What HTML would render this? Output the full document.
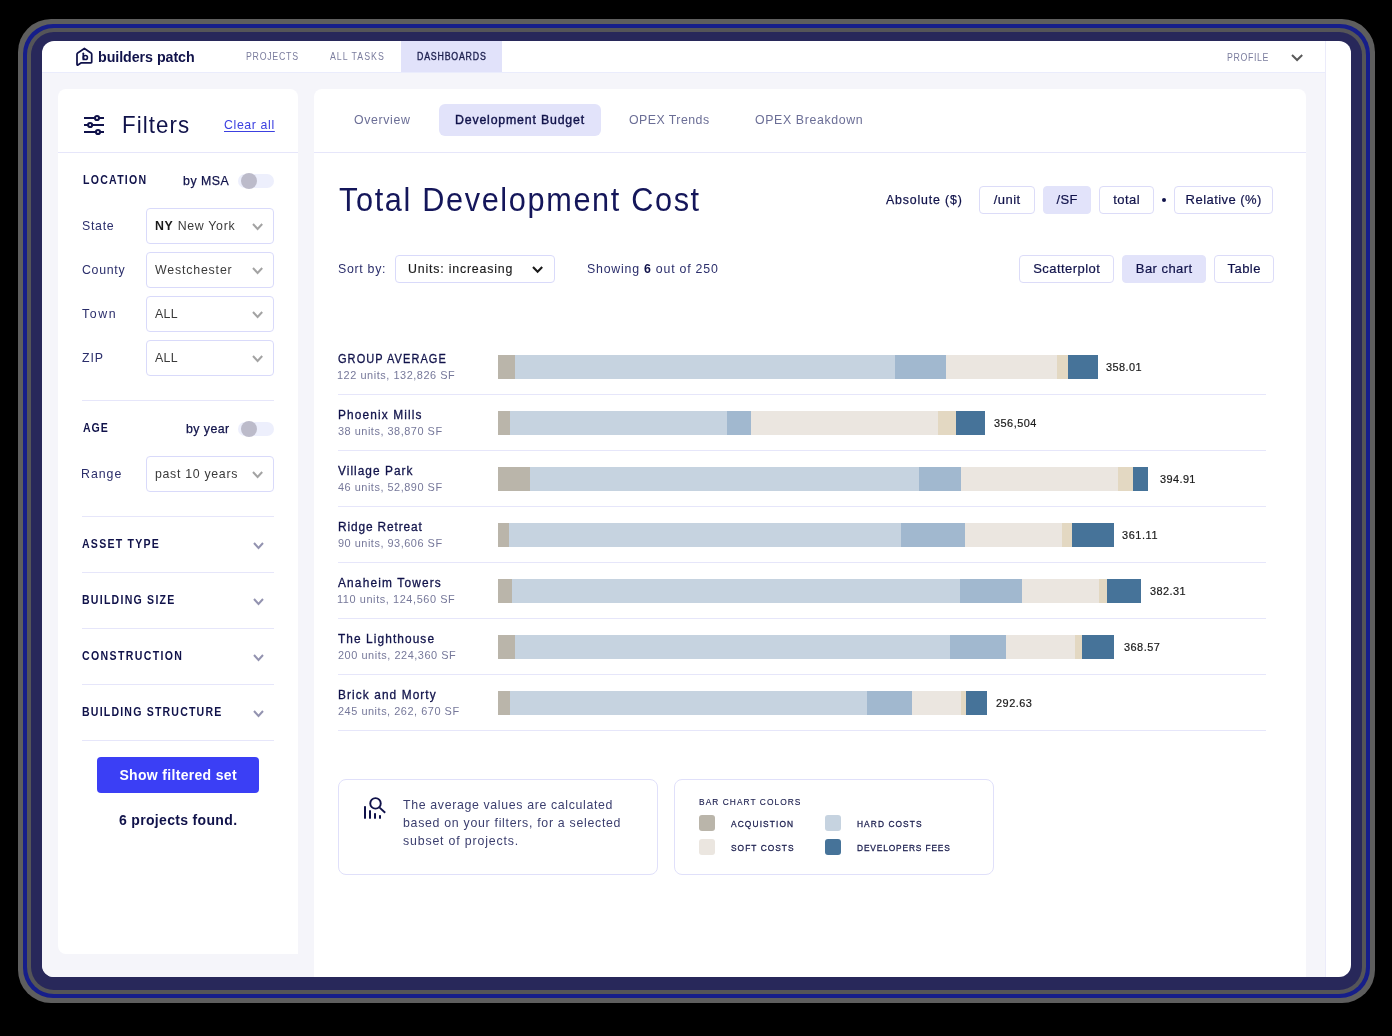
<!DOCTYPE html><html><head><meta charset="utf-8"><style>
html,body{margin:0;padding:0;background:#000;width:1392px;height:1036px;overflow:hidden}
body{position:relative;font-family:"Liberation Sans",sans-serif}
#win{will-change:transform}
.t{position:absolute;white-space:nowrap}
.r{position:absolute;box-sizing:content-box}
b{font-weight:700}
</style></head><body>
<div class="r" id="win" style="left:42px;top:41px;width:1309px;height:936px;border-radius:12px;background:#fff;overflow:hidden;box-shadow:0 2px 0 11px #28285a,0 2px 0 15px #555558,0 2px 0 19px #161e8a,0 2px 0 24px #5e5e5e;">
<div class="r" style="left:-42px;top:-41px;width:1392px;height:1036px;">
<div class="r" style="left:42px;top:73px;width:1283px;height:904px;background:#f5f5fa;"></div>
<div class="r" style="left:42px;top:72px;width:1283px;height:1px;background:#eaecfc;"></div>
<div class="r" style="left:1325px;top:41px;width:1px;height:936px;background:#ebebfa;"></div>
<svg class="r" style="left:74px;top:46px" width="22" height="22" viewBox="0 0 22 22"><path d="M3 18.3 L3 8.2 Q3 7.4 3.7 6.9 L10.4 2.5 L17 6.9 Q17.7 7.4 17.7 8.2 L17.7 16.1 Q17.7 16.9 16.9 16.9 L6.9 16.9 L3.9 18.9 Q3 19.4 3 18.3 Z" fill="none" stroke="#10124a" stroke-width="1.75" stroke-linejoin="round"/><path d="M9.3 7.3 V13.4" stroke="#10124a" stroke-width="1.7" stroke-linecap="round"/><circle cx="11.4" cy="11.5" r="2.05" fill="none" stroke="#10124a" stroke-width="1.6"/></svg>
<div class="t" id="t0" style="left:98.30px;top:49px;font-size:15px;line-height:15px;color:#10124a;font-weight:700;letter-spacing:-0.059px;transform:scaleX(0.95);transform-origin:0 0;">builders patch</div>
<div class="t" id="t1" style="left:245.60px;top:52px;font-size:10px;line-height:10px;color:#7b7d9e;letter-spacing:0.821px;transform:scaleX(0.88);transform-origin:0 0;">PROJECTS</div>
<div class="t" id="t2" style="left:330.40px;top:52px;font-size:10px;line-height:10px;color:#7b7d9e;letter-spacing:1.132px;transform:scaleX(0.88);transform-origin:0 0;">ALL TASKS</div>
<div class="r" style="left:401px;top:41px;width:101px;height:31px;background:#e1e2fa;"></div>
<div class="t" id="t3" style="left:417.00px;top:52px;font-size:10px;line-height:10px;color:#1c1f4e;letter-spacing:0.907px;-webkit-text-stroke:0.35px #1c1f4e;transform:scaleX(0.88);transform-origin:0 0;">DASHBOARDS</div>
<div class="t" id="t4" style="left:1226.70px;top:53px;font-size:10px;line-height:10px;color:#7b7d9e;letter-spacing:0.727px;transform:scaleX(0.88);transform-origin:0 0;">PROFILE</div>
<svg class="r" style="left:1289.00px;top:52.30px;overflow:visible" width="16.20" height="11.00"><path d="M3 3 L8.10 8.00 L13.20 3" fill="none" stroke="#5a5a5a" stroke-width="2"/></svg>
<div class="r" style="left:58px;top:89px;width:240px;height:865px;background:#fff;border-radius:8px 8px 0 8px;"></div>
<div class="r" style="left:58px;top:152px;width:240px;height:1px;background:#e6e6fa;"></div>
<svg class="r" style="left:84px;top:112px" width="22" height="24" viewBox="0 0 22 24"><g fill="none" stroke="#10124a" stroke-width="2.2"><line x1="0" y1="6" x2="20" y2="6"/><line x1="0" y1="13" x2="20" y2="13"/><line x1="0" y1="20" x2="20" y2="20"/></g><g fill="#fff" stroke="#10124a" stroke-width="2.1"><circle cx="13" cy="6" r="2.05"/><circle cx="6.1" cy="13" r="2.05"/><circle cx="14" cy="20" r="2.05"/></g></svg>
<div class="t" id="t5" style="left:122.45px;top:113px;font-size:24px;line-height:24px;color:#10124a;letter-spacing:1.145px;transform:scaleX(0.93);transform-origin:0 0;">Filters</div>
<div class="t" id="t6" style="left:223.50px;top:118px;font-size:13px;line-height:13px;color:#3c40e0;letter-spacing:0.642px;text-decoration:underline;text-underline-offset:2px;transform:scaleX(0.95);transform-origin:0 0;">Clear all</div>
<div class="t" id="t7" style="left:82.50px;top:174px;font-size:12px;line-height:12px;color:#10124a;font-weight:700;letter-spacing:1.420px;transform:scaleX(0.88);transform-origin:0 0;">LOCATION</div>
<div class="t" id="t8" style="left:183.30px;top:174px;font-size:13px;line-height:13px;color:#10124a;letter-spacing:0.539px;-webkit-text-stroke:0.25px #10124a;transform:scaleX(0.95);transform-origin:0 0;">by MSA</div>
<div class="r" style="left:238px;top:174px;width:36px;height:14px;background:#edeffc;border-radius:7px;"></div>
<div class="r" style="left:241px;top:173px;width:16px;height:16px;background:#bcbbca;border-radius:8px;"></div>
<div class="t" id="t9" style="left:82.20px;top:219px;font-size:13px;line-height:13px;color:#2b2e6b;letter-spacing:0.752px;transform:scaleX(0.95);transform-origin:0 0;">State</div>
<div class="r" style="left:146px;top:208px;width:126px;height:34px;border:1px solid #d9dafa;border-radius:4px;background:#fff"></div>
<div class="t" id="t10" style="left:155.20px;top:219px;font-size:13px;line-height:13px;color:#3a3a3a;letter-spacing:0.720px;transform:scaleX(0.95);transform-origin:0 0;"><b style="color:#1a1a1a">NY</b> New York</div>
<svg class="r" style="left:249.70px;top:220.90px;overflow:visible" width="15.20" height="11.00"><path d="M3 3 L7.60 8.00 L12.20 3" fill="none" stroke="#a3a3a3" stroke-width="2"/></svg>
<div class="t" id="t11" style="left:82.20px;top:263px;font-size:13px;line-height:13px;color:#2b2e6b;letter-spacing:0.728px;transform:scaleX(0.95);transform-origin:0 0;">County</div>
<div class="r" style="left:146px;top:252px;width:126px;height:34px;border:1px solid #d9dafa;border-radius:4px;background:#fff"></div>
<div class="t" id="t12" style="left:155.20px;top:263px;font-size:13px;line-height:13px;color:#3a3a3a;letter-spacing:0.872px;transform:scaleX(0.95);transform-origin:0 0;">Westchester</div>
<svg class="r" style="left:249.70px;top:264.90px;overflow:visible" width="15.20" height="11.00"><path d="M3 3 L7.60 8.00 L12.20 3" fill="none" stroke="#a3a3a3" stroke-width="2"/></svg>
<div class="t" id="t13" style="left:82.20px;top:307px;font-size:13px;line-height:13px;color:#2b2e6b;letter-spacing:1.692px;transform:scaleX(0.95);transform-origin:0 0;">Town</div>
<div class="r" style="left:146px;top:296px;width:126px;height:34px;border:1px solid #d9dafa;border-radius:4px;background:#fff"></div>
<div class="t" id="t14" style="left:155.20px;top:307px;font-size:13px;line-height:13px;color:#3a3a3a;letter-spacing:0.377px;transform:scaleX(0.95);transform-origin:0 0;">ALL</div>
<svg class="r" style="left:249.70px;top:308.90px;overflow:visible" width="15.20" height="11.00"><path d="M3 3 L7.60 8.00 L12.20 3" fill="none" stroke="#a3a3a3" stroke-width="2"/></svg>
<div class="t" id="t15" style="left:82.20px;top:351px;font-size:13px;line-height:13px;color:#2b2e6b;letter-spacing:0.943px;transform:scaleX(0.95);transform-origin:0 0;">ZIP</div>
<div class="r" style="left:146px;top:340px;width:126px;height:34px;border:1px solid #d9dafa;border-radius:4px;background:#fff"></div>
<div class="t" id="t16" style="left:155.20px;top:351px;font-size:13px;line-height:13px;color:#3a3a3a;letter-spacing:0.377px;transform:scaleX(0.95);transform-origin:0 0;">ALL</div>
<svg class="r" style="left:249.70px;top:352.90px;overflow:visible" width="15.20" height="11.00"><path d="M3 3 L7.60 8.00 L12.20 3" fill="none" stroke="#a3a3a3" stroke-width="2"/></svg>
<div class="r" style="left:82px;top:400px;width:192px;height:1px;background:#e6e6fa;"></div>
<div class="t" id="t17" style="left:82.50px;top:422px;font-size:12px;line-height:12px;color:#10124a;font-weight:700;letter-spacing:1.091px;transform:scaleX(0.88);transform-origin:0 0;">AGE</div>
<div class="t" id="t18" style="left:185.90px;top:421.5px;font-size:13px;line-height:13px;color:#10124a;letter-spacing:0.472px;-webkit-text-stroke:0.25px #10124a;transform:scaleX(0.95);transform-origin:0 0;">by year</div>
<div class="r" style="left:238px;top:422px;width:36px;height:14px;background:#edeffc;border-radius:7px;"></div>
<div class="r" style="left:241px;top:421px;width:16px;height:16px;background:#bcbbca;border-radius:8px;"></div>
<div class="t" id="t19" style="left:81.08px;top:467px;font-size:13px;line-height:13px;color:#2b2e6b;letter-spacing:1.031px;transform:scaleX(0.95);transform-origin:0 0;">Range</div>
<div class="r" style="left:146px;top:456px;width:126px;height:34px;border:1px solid #d9dafa;border-radius:4px;background:#fff"></div>
<div class="t" id="t20" style="left:155.20px;top:467px;font-size:13px;line-height:13px;color:#3a3a3a;letter-spacing:0.723px;transform:scaleX(0.95);transform-origin:0 0;">past 10 years</div>
<svg class="r" style="left:249.70px;top:468.90px;overflow:visible" width="15.20" height="11.00"><path d="M3 3 L7.60 8.00 L12.20 3" fill="none" stroke="#a3a3a3" stroke-width="2"/></svg>
<div class="r" style="left:82px;top:516px;width:192px;height:1px;background:#e6e6fa;"></div>
<div class="t" id="t21" style="left:82.20px;top:538px;font-size:12px;line-height:12px;color:#10124a;font-weight:700;letter-spacing:1.402px;transform:scaleX(0.88);transform-origin:0 0;">ASSET TYPE</div>
<svg class="r" style="left:250.80px;top:539.90px;overflow:visible" width="15.00" height="10.90"><path d="M3 3 L7.50 7.90 L12.00 3" fill="none" stroke="#9393b0" stroke-width="2"/></svg>
<div class="r" style="left:82px;top:572px;width:192px;height:1px;background:#e6e6fa;"></div>
<div class="t" id="t22" style="left:82.20px;top:594px;font-size:12px;line-height:12px;color:#10124a;font-weight:700;letter-spacing:1.408px;transform:scaleX(0.88);transform-origin:0 0;">BUILDING SIZE</div>
<svg class="r" style="left:250.80px;top:595.90px;overflow:visible" width="15.00" height="10.90"><path d="M3 3 L7.50 7.90 L12.00 3" fill="none" stroke="#9393b0" stroke-width="2"/></svg>
<div class="r" style="left:82px;top:628px;width:192px;height:1px;background:#e6e6fa;"></div>
<div class="t" id="t23" style="left:82.20px;top:650px;font-size:12px;line-height:12px;color:#10124a;font-weight:700;letter-spacing:1.542px;transform:scaleX(0.88);transform-origin:0 0;">CONSTRUCTION</div>
<svg class="r" style="left:250.80px;top:651.90px;overflow:visible" width="15.00" height="10.90"><path d="M3 3 L7.50 7.90 L12.00 3" fill="none" stroke="#9393b0" stroke-width="2"/></svg>
<div class="r" style="left:82px;top:684px;width:192px;height:1px;background:#e6e6fa;"></div>
<div class="t" id="t24" style="left:82.20px;top:706px;font-size:12px;line-height:12px;color:#10124a;font-weight:700;letter-spacing:1.350px;transform:scaleX(0.88);transform-origin:0 0;">BUILDING STRUCTURE</div>
<svg class="r" style="left:250.80px;top:707.90px;overflow:visible" width="15.00" height="10.90"><path d="M3 3 L7.50 7.90 L12.00 3" fill="none" stroke="#9393b0" stroke-width="2"/></svg>
<div class="r" style="left:82px;top:740px;width:192px;height:1px;background:#e6e6fa;"></div>
<div class="r" style="left:97px;top:757px;width:162px;height:36px;background:#3b3ff5;border-radius:4px;"></div>
<div class="t" style="left:-122px;width:600px;text-align:center;top:768px;font-size:14px;line-height:14px;color:#fff;font-weight:700;letter-spacing:0.32px;text-indent:0.32px;transform:scaleX(1);transform-origin:50% 0;">Show filtered set</div>
<div class="t" style="left:-122px;width:600px;text-align:center;top:813px;font-size:14px;line-height:14px;color:#10124a;font-weight:700;letter-spacing:0.33px;text-indent:0.33px;transform:scaleX(1);transform-origin:50% 0;">6 projects found.</div>
<div class="r" style="left:314px;top:89px;width:992px;height:911px;background:#fff;border-radius:8px;"></div>
<div class="r" style="left:314px;top:152px;width:992px;height:1px;background:#e6e6fa;"></div>
<div class="t" id="t25" style="left:354.40px;top:113px;font-size:13px;line-height:13px;color:#6b6e96;letter-spacing:0.665px;transform:scaleX(0.95);transform-origin:0 0;">Overview</div>
<div class="r" style="left:439px;top:104px;width:162px;height:32px;background:#e2e3fa;border-radius:6px;"></div>
<div class="t" id="t26" style="left:455.00px;top:113px;font-size:13px;line-height:13px;color:#10124a;letter-spacing:0.856px;-webkit-text-stroke:0.4px #10124a;transform:scaleX(0.95);transform-origin:0 0;">Development Budget</div>
<div class="t" id="t27" style="left:629.00px;top:113px;font-size:13px;line-height:13px;color:#6b6e96;letter-spacing:0.483px;transform:scaleX(0.95);transform-origin:0 0;">OPEX Trends</div>
<div class="t" id="t28" style="left:754.50px;top:113px;font-size:13px;line-height:13px;color:#6b6e96;letter-spacing:0.657px;transform:scaleX(0.95);transform-origin:0 0;">OPEX Breakdown</div>
<div class="t" id="t29" style="left:339.00px;top:183px;font-size:33px;line-height:33px;color:#14165a;letter-spacing:1.758px;transform:scaleX(0.93);transform-origin:0 0;">Total Development Cost</div>
<div class="t" id="t30" style="left:886.30px;top:193px;font-size:13px;line-height:13px;color:#10124a;letter-spacing:0.890px;-webkit-text-stroke:0.25px #10124a;transform:scaleX(0.95);transform-origin:0 0;">Absolute ($)</div>
<div class="r" style="left:979px;top:186px;width:54px;height:26px;border:1px solid #dcdcf8;border-radius:4px;background:#fff"></div>
<div class="t" style="left:707.0px;width:600px;text-align:center;top:193px;font-size:13px;line-height:13px;color:#10124a;letter-spacing:0.45px;text-indent:0.45px;-webkit-text-stroke:0.2px #10124a;transform:scaleX(1);transform-origin:50% 0;">/unit</div>
<div class="r" style="left:1043px;top:186px;width:46px;height:26px;border:1px solid #e2e3fa;border-radius:4px;background:#e2e3fa"></div>
<div class="t" style="left:767.0px;width:600px;text-align:center;top:193px;font-size:13px;line-height:13px;color:#10124a;letter-spacing:0.45px;text-indent:0.45px;-webkit-text-stroke:0.2px #10124a;transform:scaleX(1);transform-origin:50% 0;">/SF</div>
<div class="r" style="left:1099px;top:186px;width:53px;height:26px;border:1px solid #dcdcf8;border-radius:4px;background:#fff"></div>
<div class="t" style="left:826.5px;width:600px;text-align:center;top:193px;font-size:13px;line-height:13px;color:#10124a;letter-spacing:0.45px;text-indent:0.45px;-webkit-text-stroke:0.2px #10124a;transform:scaleX(1);transform-origin:50% 0;">total</div>
<div class="r" style="left:1162px;top:198px;width:4px;height:4px;background:#10124a;border-radius:2px;"></div>
<div class="r" style="left:1174px;top:186px;width:97px;height:26px;border:1px solid #dcdcf8;border-radius:4px;background:#fff"></div>
<div class="t" style="left:923.5px;width:600px;text-align:center;top:193px;font-size:13px;line-height:13px;color:#10124a;letter-spacing:0.45px;text-indent:0.45px;-webkit-text-stroke:0.2px #10124a;transform:scaleX(1);transform-origin:50% 0;">Relative (%)</div>
<div class="t" id="t31" style="left:338.00px;top:262px;font-size:13px;line-height:13px;color:#2b2e6b;letter-spacing:0.743px;transform:scaleX(0.95);transform-origin:0 0;">Sort by:</div>
<div class="r" style="left:395px;top:255px;width:158px;height:26px;border:1px solid #d9dafa;border-radius:4px;background:#fff"></div>
<div class="t" id="t32" style="left:407.60px;top:262px;font-size:13px;line-height:13px;color:#1a1a1a;letter-spacing:0.854px;-webkit-text-stroke:0.15px #1a1a1a;transform:scaleX(0.95);transform-origin:0 0;">Units: increasing</div>
<svg class="r" style="left:530.00px;top:263.80px;overflow:visible" width="15.20" height="10.70"><path d="M3 3 L7.60 7.70 L12.20 3" fill="none" stroke="#1a1a1a" stroke-width="2.1"/></svg>
<div class="t" id="t33" style="left:586.60px;top:262px;font-size:13px;line-height:13px;color:#2b2e6b;letter-spacing:0.816px;transform:scaleX(0.95);transform-origin:0 0;">Showing <b style="color:#10124a">6</b> out of 250</div>
<div class="r" style="left:1019px;top:255px;width:93px;height:26px;border:1px solid #dcdcf8;border-radius:4px;background:#fff"></div>
<div class="t" style="left:766.5px;width:600px;text-align:center;top:262px;font-size:13px;line-height:13px;color:#10124a;letter-spacing:0.45px;text-indent:0.45px;-webkit-text-stroke:0.2px #10124a;transform:scaleX(1);transform-origin:50% 0;">Scatterplot</div>
<div class="r" style="left:1122px;top:255px;width:82px;height:26px;border:1px solid #e2e3fa;border-radius:4px;background:#e2e3fa"></div>
<div class="t" style="left:864.0px;width:600px;text-align:center;top:262px;font-size:13px;line-height:13px;color:#10124a;letter-spacing:0.45px;text-indent:0.45px;-webkit-text-stroke:0.2px #10124a;transform:scaleX(1);transform-origin:50% 0;">Bar chart</div>
<div class="r" style="left:1214px;top:255px;width:58px;height:26px;border:1px solid #dcdcf8;border-radius:4px;background:#fff"></div>
<div class="t" style="left:944.0px;width:600px;text-align:center;top:262px;font-size:13px;line-height:13px;color:#10124a;letter-spacing:0.45px;text-indent:0.45px;-webkit-text-stroke:0.2px #10124a;transform:scaleX(1);transform-origin:50% 0;">Table</div>
<div class="t" id="t34" style="left:338.30px;top:353px;font-size:12.5px;line-height:12.5px;color:#10124a;letter-spacing:1.212px;-webkit-text-stroke:0.3px #10124a;transform:scaleX(0.88);transform-origin:0 0;">GROUP AVERAGE</div>
<div class="t" id="t35" style="left:337.32px;top:370px;font-size:11.5px;line-height:11.5px;color:#76789a;letter-spacing:0.573px;transform:scaleX(0.95);transform-origin:0 0;">122 units, 132,826 SF</div>
<div class="r" style="left:498px;top:355px;width:17px;height:24px;background:#bab5aa;"></div>
<div class="r" style="left:515px;top:355px;width:380px;height:24px;background:#c6d3e0;"></div>
<div class="r" style="left:895px;top:355px;width:51px;height:24px;background:#a1b8cf;"></div>
<div class="r" style="left:946px;top:355px;width:111px;height:24px;background:#ebe6e0;"></div>
<div class="r" style="left:1057px;top:355px;width:11px;height:24px;background:#e3d8c2;"></div>
<div class="r" style="left:1068px;top:355px;width:30px;height:24px;background:#467399;"></div>
<div class="t" id="t36" style="left:1106.00px;top:362px;font-size:11.5px;line-height:11.5px;color:#1a1a1a;letter-spacing:0.467px;-webkit-text-stroke:0.2px #1a1a1a;transform:scaleX(0.95);transform-origin:0 0;">358.01</div>
<div class="r" style="left:338px;top:394px;width:928px;height:1px;background:#e6e6fa;"></div>
<div class="t" id="t37" style="left:338.30px;top:409px;font-size:12.5px;line-height:12.5px;color:#10124a;letter-spacing:1.178px;-webkit-text-stroke:0.3px #10124a;transform:scaleX(0.95);transform-origin:0 0;">Phoenix Mills</div>
<div class="t" id="t38" style="left:338.30px;top:426px;font-size:11.5px;line-height:11.5px;color:#76789a;letter-spacing:0.545px;transform:scaleX(0.95);transform-origin:0 0;">38 units, 38,870 SF</div>
<div class="r" style="left:498px;top:411px;width:12px;height:24px;background:#bab5aa;"></div>
<div class="r" style="left:510px;top:411px;width:217px;height:24px;background:#c6d3e0;"></div>
<div class="r" style="left:727px;top:411px;width:24px;height:24px;background:#a1b8cf;"></div>
<div class="r" style="left:751px;top:411px;width:187px;height:24px;background:#ebe6e0;"></div>
<div class="r" style="left:938px;top:411px;width:18px;height:24px;background:#e3d8c2;"></div>
<div class="r" style="left:956px;top:411px;width:29px;height:24px;background:#467399;"></div>
<div class="t" id="t39" style="left:994.00px;top:418px;font-size:11.5px;line-height:11.5px;color:#1a1a1a;letter-spacing:0.499px;-webkit-text-stroke:0.2px #1a1a1a;transform:scaleX(0.95);transform-origin:0 0;">356,504</div>
<div class="r" style="left:338px;top:450px;width:928px;height:1px;background:#e6e6fa;"></div>
<div class="t" id="t40" style="left:338.30px;top:465px;font-size:12.5px;line-height:12.5px;color:#10124a;letter-spacing:1.084px;-webkit-text-stroke:0.3px #10124a;transform:scaleX(0.95);transform-origin:0 0;">Village Park</div>
<div class="t" id="t41" style="left:338.30px;top:482px;font-size:11.5px;line-height:11.5px;color:#76789a;letter-spacing:0.545px;transform:scaleX(0.95);transform-origin:0 0;">46 units, 52,890 SF</div>
<div class="r" style="left:498px;top:467px;width:32px;height:24px;background:#bab5aa;"></div>
<div class="r" style="left:530px;top:467px;width:389px;height:24px;background:#c6d3e0;"></div>
<div class="r" style="left:919px;top:467px;width:42px;height:24px;background:#a1b8cf;"></div>
<div class="r" style="left:961px;top:467px;width:157px;height:24px;background:#ebe6e0;"></div>
<div class="r" style="left:1118px;top:467px;width:15px;height:24px;background:#e3d8c2;"></div>
<div class="r" style="left:1133px;top:467px;width:15px;height:24px;background:#467399;"></div>
<div class="t" id="t42" style="left:1160.00px;top:474px;font-size:11.5px;line-height:11.5px;color:#1a1a1a;letter-spacing:0.425px;-webkit-text-stroke:0.2px #1a1a1a;transform:scaleX(0.95);transform-origin:0 0;">394.91</div>
<div class="r" style="left:338px;top:506px;width:928px;height:1px;background:#e6e6fa;"></div>
<div class="t" id="t43" style="left:338.30px;top:521px;font-size:12.5px;line-height:12.5px;color:#10124a;letter-spacing:0.915px;-webkit-text-stroke:0.3px #10124a;transform:scaleX(0.95);transform-origin:0 0;">Ridge Retreat</div>
<div class="t" id="t44" style="left:338.30px;top:538px;font-size:11.5px;line-height:11.5px;color:#76789a;letter-spacing:0.545px;transform:scaleX(0.95);transform-origin:0 0;">90 units, 93,606 SF</div>
<div class="r" style="left:498px;top:523px;width:11px;height:24px;background:#bab5aa;"></div>
<div class="r" style="left:509px;top:523px;width:392px;height:24px;background:#c6d3e0;"></div>
<div class="r" style="left:901px;top:523px;width:64px;height:24px;background:#a1b8cf;"></div>
<div class="r" style="left:965px;top:523px;width:97px;height:24px;background:#ebe6e0;"></div>
<div class="r" style="left:1062px;top:523px;width:10px;height:24px;background:#e3d8c2;"></div>
<div class="r" style="left:1072px;top:523px;width:42px;height:24px;background:#467399;"></div>
<div class="t" id="t45" style="left:1122.00px;top:530px;font-size:11.5px;line-height:11.5px;color:#1a1a1a;letter-spacing:0.617px;-webkit-text-stroke:0.2px #1a1a1a;transform:scaleX(0.95);transform-origin:0 0;">361.11</div>
<div class="r" style="left:338px;top:562px;width:928px;height:1px;background:#e6e6fa;"></div>
<div class="t" id="t46" style="left:338.30px;top:577px;font-size:12.5px;line-height:12.5px;color:#10124a;letter-spacing:1.233px;-webkit-text-stroke:0.3px #10124a;transform:scaleX(0.95);transform-origin:0 0;">Anaheim Towers</div>
<div class="t" id="t47" style="left:337.32px;top:594px;font-size:11.5px;line-height:11.5px;color:#76789a;letter-spacing:0.616px;transform:scaleX(0.95);transform-origin:0 0;">110 units, 124,560 SF</div>
<div class="r" style="left:498px;top:579px;width:14px;height:24px;background:#bab5aa;"></div>
<div class="r" style="left:512px;top:579px;width:448px;height:24px;background:#c6d3e0;"></div>
<div class="r" style="left:960px;top:579px;width:62px;height:24px;background:#a1b8cf;"></div>
<div class="r" style="left:1022px;top:579px;width:77px;height:24px;background:#ebe6e0;"></div>
<div class="r" style="left:1099px;top:579px;width:8px;height:24px;background:#e3d8c2;"></div>
<div class="r" style="left:1107px;top:579px;width:34px;height:24px;background:#467399;"></div>
<div class="t" id="t48" style="left:1150.00px;top:586px;font-size:11.5px;line-height:11.5px;color:#1a1a1a;letter-spacing:0.467px;-webkit-text-stroke:0.2px #1a1a1a;transform:scaleX(0.95);transform-origin:0 0;">382.31</div>
<div class="r" style="left:338px;top:618px;width:928px;height:1px;background:#e6e6fa;"></div>
<div class="t" id="t49" style="left:338.30px;top:633px;font-size:12.5px;line-height:12.5px;color:#10124a;letter-spacing:1.143px;-webkit-text-stroke:0.3px #10124a;transform:scaleX(0.95);transform-origin:0 0;">The Lighthouse</div>
<div class="t" id="t50" style="left:338.30px;top:650px;font-size:11.5px;line-height:11.5px;color:#76789a;letter-spacing:0.573px;transform:scaleX(0.95);transform-origin:0 0;">200 units, 224,360 SF</div>
<div class="r" style="left:498px;top:635px;width:17px;height:24px;background:#bab5aa;"></div>
<div class="r" style="left:515px;top:635px;width:435px;height:24px;background:#c6d3e0;"></div>
<div class="r" style="left:950px;top:635px;width:56px;height:24px;background:#a1b8cf;"></div>
<div class="r" style="left:1006px;top:635px;width:69px;height:24px;background:#ebe6e0;"></div>
<div class="r" style="left:1075px;top:635px;width:7px;height:24px;background:#e3d8c2;"></div>
<div class="r" style="left:1082px;top:635px;width:32px;height:24px;background:#467399;"></div>
<div class="t" id="t51" style="left:1124.00px;top:642px;font-size:11.5px;line-height:11.5px;color:#1a1a1a;letter-spacing:0.509px;-webkit-text-stroke:0.2px #1a1a1a;transform:scaleX(0.95);transform-origin:0 0;">368.57</div>
<div class="r" style="left:338px;top:674px;width:928px;height:1px;background:#e6e6fa;"></div>
<div class="t" id="t52" style="left:338.30px;top:689px;font-size:12.5px;line-height:12.5px;color:#10124a;letter-spacing:1.143px;-webkit-text-stroke:0.3px #10124a;transform:scaleX(0.95);transform-origin:0 0;">Brick and Morty</div>
<div class="t" id="t53" style="left:338.30px;top:706px;font-size:11.5px;line-height:11.5px;color:#76789a;letter-spacing:0.559px;transform:scaleX(0.95);transform-origin:0 0;">245 units, 262, 670 SF</div>
<div class="r" style="left:498px;top:691px;width:12px;height:24px;background:#bab5aa;"></div>
<div class="r" style="left:510px;top:691px;width:357px;height:24px;background:#c6d3e0;"></div>
<div class="r" style="left:867px;top:691px;width:45px;height:24px;background:#a1b8cf;"></div>
<div class="r" style="left:912px;top:691px;width:49px;height:24px;background:#ebe6e0;"></div>
<div class="r" style="left:961px;top:691px;width:5px;height:24px;background:#e3d8c2;"></div>
<div class="r" style="left:966px;top:691px;width:21px;height:24px;background:#467399;"></div>
<div class="t" id="t54" style="left:996.00px;top:698px;font-size:11.5px;line-height:11.5px;color:#1a1a1a;letter-spacing:0.530px;-webkit-text-stroke:0.2px #1a1a1a;transform:scaleX(0.95);transform-origin:0 0;">292.63</div>
<div class="r" style="left:338px;top:730px;width:928px;height:1px;background:#e6e6fa;"></div>
<div class="r" style="left:338px;top:779px;width:318px;height:94px;border:1px solid #e0e0fa;border-radius:8px;background:#fff"></div>
<div class="r" style="left:674px;top:779px;width:318px;height:94px;border:1px solid #e0e0fa;border-radius:8px;background:#fff"></div>
<svg class="r" style="left:362px;top:795px" width="26" height="26" viewBox="0 0 26 26"><g fill="#10124a"><rect x="2" y="11.2" width="2" height="12.5"/><rect x="7" y="15.3" width="2" height="8.4"/><rect x="12" y="18.2" width="2" height="5.5"/><rect x="17" y="20.2" width="2" height="3.5"/></g><circle cx="13.5" cy="8.4" r="5.25" fill="none" stroke="#10124a" stroke-width="1.9"/><line x1="17.6" y1="12.6" x2="23.2" y2="17.7" stroke="#10124a" stroke-width="1.9"/></svg>
<div class="t" id="t55" style="left:403.30px;top:798px;font-size:13px;line-height:13px;color:#3b3e6e;letter-spacing:0.679px;transform:scaleX(0.95);transform-origin:0 0;">The average values are calculated</div>
<div class="t" id="t56" style="left:403.30px;top:816px;font-size:13px;line-height:13px;color:#3b3e6e;letter-spacing:0.738px;transform:scaleX(0.95);transform-origin:0 0;">based on your filters, for a selected</div>
<div class="t" id="t57" style="left:403.30px;top:834px;font-size:13px;line-height:13px;color:#3b3e6e;letter-spacing:0.873px;transform:scaleX(0.95);transform-origin:0 0;">subset of projects.</div>
<div class="t" id="t58" style="left:699.00px;top:797px;font-size:9.5px;line-height:9.5px;color:#1b1e4e;letter-spacing:1.193px;-webkit-text-stroke:0.15px #1b1e4e;transform:scaleX(0.88);transform-origin:0 0;">BAR CHART COLORS</div>
<div class="r" style="left:699px;top:815px;width:16px;height:16px;background:#bab5aa;border-radius:3px;"></div>
<div class="t" id="t59" style="left:731.00px;top:819px;font-size:9.5px;line-height:9.5px;color:#1b1e4e;letter-spacing:1.271px;-webkit-text-stroke:0.3px #1b1e4e;transform:scaleX(0.88);transform-origin:0 0;">ACQUISTION</div>
<div class="r" style="left:699px;top:839px;width:16px;height:16px;background:#ebe6e0;border-radius:3px;"></div>
<div class="t" id="t60" style="left:731.00px;top:843px;font-size:9.5px;line-height:9.5px;color:#1b1e4e;letter-spacing:1.178px;-webkit-text-stroke:0.3px #1b1e4e;transform:scaleX(0.88);transform-origin:0 0;">SOFT COSTS</div>
<div class="r" style="left:825px;top:815px;width:16px;height:16px;background:#c6d3e0;border-radius:3px;"></div>
<div class="t" id="t61" style="left:857.00px;top:819px;font-size:9.5px;line-height:9.5px;color:#1b1e4e;letter-spacing:1.222px;-webkit-text-stroke:0.3px #1b1e4e;transform:scaleX(0.88);transform-origin:0 0;">HARD COSTS</div>
<div class="r" style="left:825px;top:839px;width:16px;height:16px;background:#467399;border-radius:3px;"></div>
<div class="t" id="t62" style="left:857.00px;top:843px;font-size:9.5px;line-height:9.5px;color:#1b1e4e;letter-spacing:0.975px;-webkit-text-stroke:0.3px #1b1e4e;transform:scaleX(0.88);transform-origin:0 0;">DEVELOPERS FEES</div>
</div></div>
</body></html>
